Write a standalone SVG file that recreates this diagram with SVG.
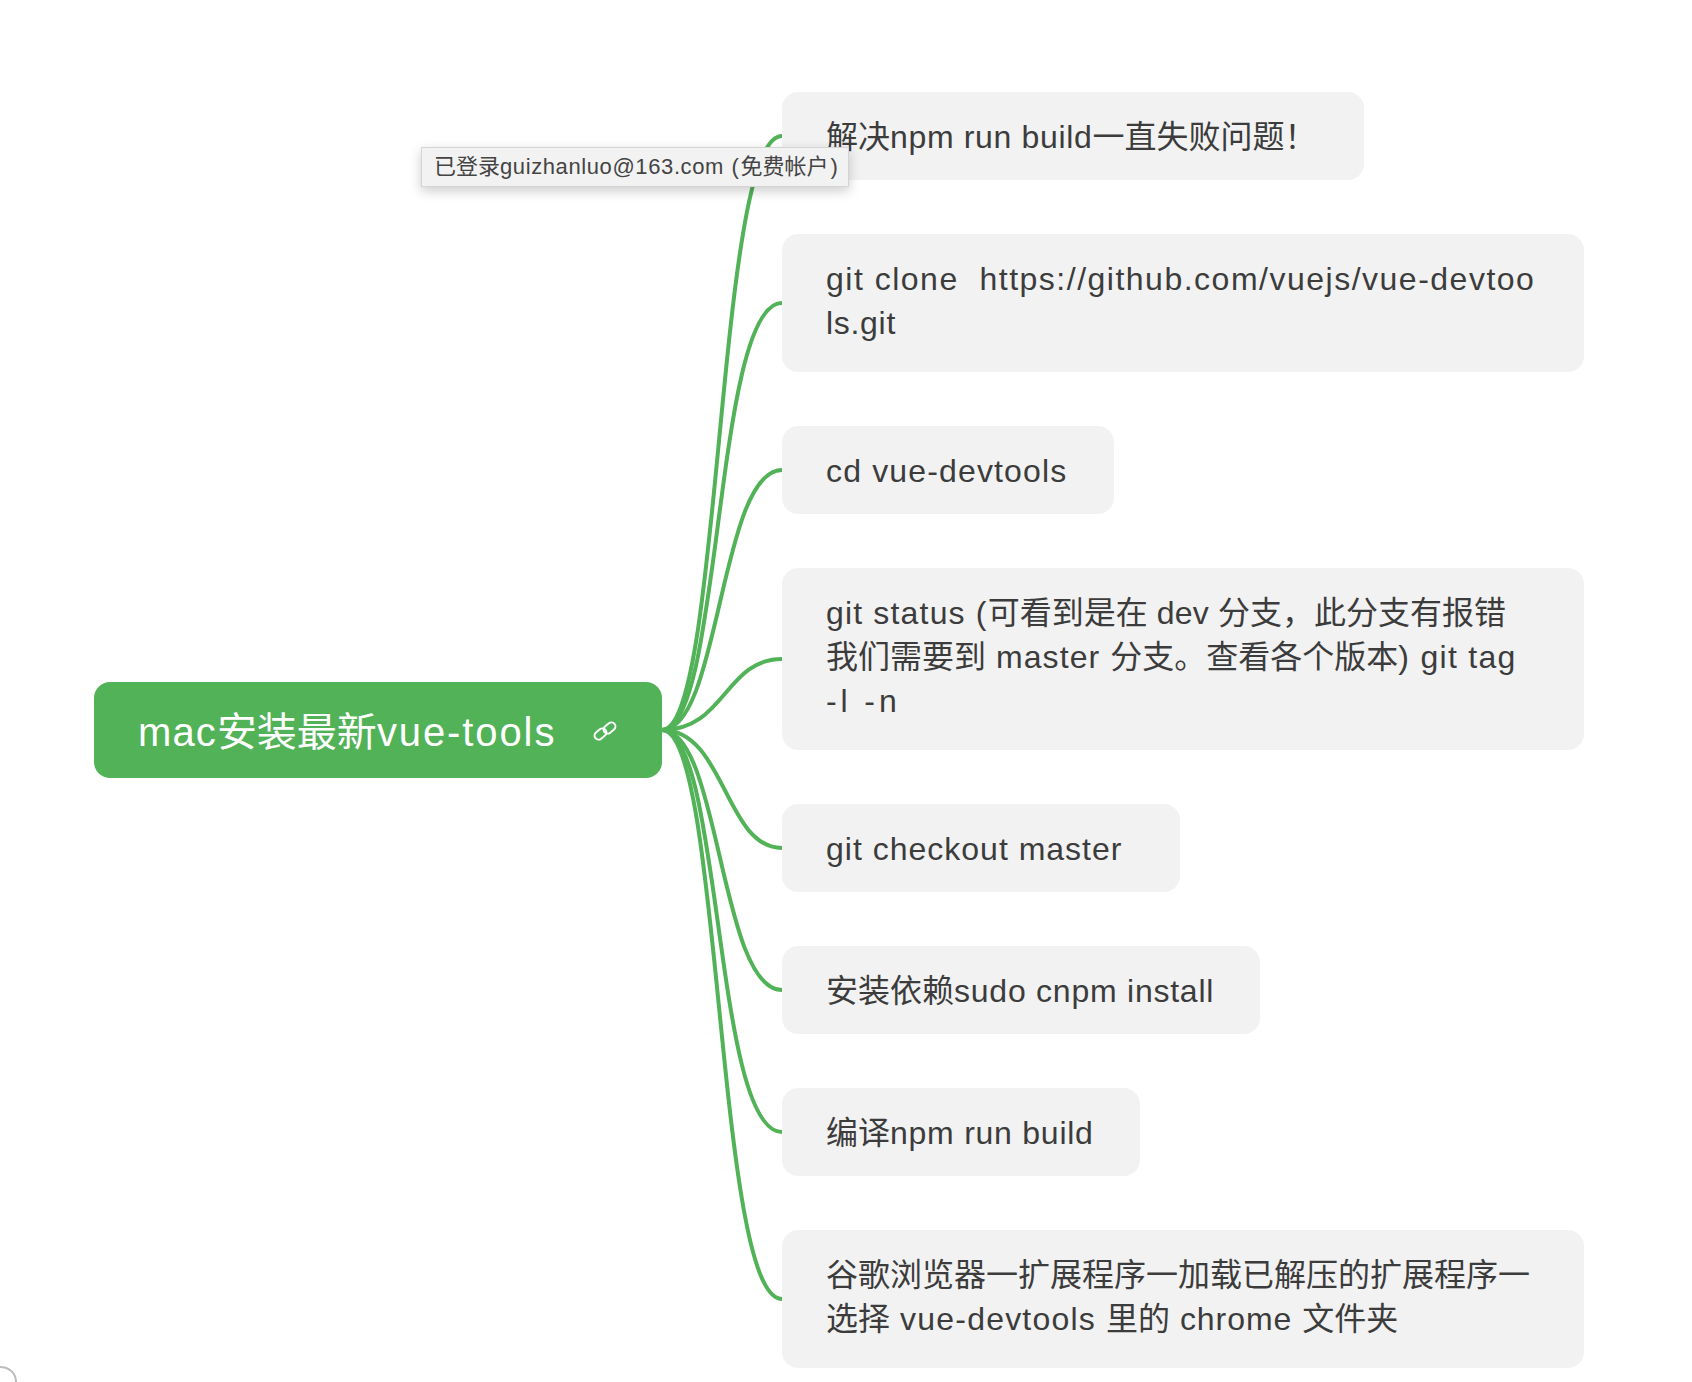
<svg xmlns="http://www.w3.org/2000/svg" width="1692" height="1382" viewBox="0 0 1692 1382">
<style>
text{font-family:"Liberation Sans","Noto Sans CJK SC",sans-serif;white-space:pre}
.n{fill:#f2f2f2}
.t{font-size:32px;fill:#3c3c3c}
.c{fill:none;stroke:#52b257;stroke-width:4}
</style>
<defs>
<filter id="sh" x="-10%" y="-50%" width="120%" height="220%"><feDropShadow dx="0" dy="4" stdDeviation="6" flood-color="#000" flood-opacity=".2"/></filter>
</defs>
<rect width="1692" height="1382" fill="#fff"/>
<g id="connectors">
<path class="c" d="M662 730C722 730 716 136 782 136"/>
<path class="c" d="M662 730C722 730 714 303 782 303"/>
<path class="c" d="M662 730C720 730 720 470 782 470"/>
<path class="c" d="M662 730C725 730 725 659 782 659"/>
<path class="c" d="M662 730C725 730 725 848 782 848"/>
<path class="c" d="M662 730C720 730 720 990 782 990"/>
<path class="c" d="M662 730C722 730 714 1132 782 1132"/>
<path class="c" d="M662 730C722 730 716 1299 782 1299"/>
</g>
<g id="root"><rect x="94" y="682" width="568" height="96" rx="16" fill="#52b257"/>
<text x="138" y="746" font-size="40" fill="#fff"><tspan letter-spacing="1.1">mac</tspan>安装最新<tspan letter-spacing="1.9">vue-tools</tspan></text>
<g fill="none" stroke="#fff" stroke-width="2" transform="translate(2 1)"><rect x="592" y="729" width="13" height="8" rx="4" transform="rotate(-40 598.5 733)"/><rect x="601" y="723" width="13" height="8" rx="4" transform="rotate(-40 607.5 727)"/></g></g>
<g id="n1"><rect class="n" x="782" y="92" width="582" height="88" rx="16"/><text class="t" x="826" y="148">解决<tspan letter-spacing=".66">npm run build</tspan>一直失败问题！</text></g>
<g id="n2"><rect class="n" x="782" y="234" width="802" height="138" rx="16"/><text class="t" x="826" y="290" letter-spacing="1.5">git clone  https://github.com/vuejs/vue-devtoo</text><text class="t" x="826" y="334" letter-spacing=".7">ls.git</text></g>
<g id="n3"><rect class="n" x="782" y="426" width="332" height="88" rx="16"/><text class="t" x="826" y="482" letter-spacing="1.15">cd vue-devtools</text></g>
<g id="n4"><rect class="n" x="782" y="568" width="802" height="182" rx="16"/><text class="t" x="826" y="624"><tspan letter-spacing="1.17">git status (</tspan>可看到是在<tspan letter-spacing=".2"> dev </tspan>分支，此分支有报错</text><text class="t" x="826" y="668">我们需要到<tspan letter-spacing="1.08"> master </tspan>分支。查看各个版本<tspan letter-spacing="1.3">) git tag</tspan></text><text class="t" x="826" y="712" letter-spacing="3.9">-l -n</text></g>
<g id="n5"><rect class="n" x="782" y="804" width="398" height="88" rx="16"/><text class="t" x="826" y="860" letter-spacing="1">git checkout master</text></g>
<g id="n6"><rect class="n" x="782" y="946" width="478" height="88" rx="16"/><text class="t" x="826" y="1002">安装依赖<tspan letter-spacing=".76">sudo cnpm install</tspan></text></g>
<g id="n7"><rect class="n" x="782" y="1088" width="358" height="88" rx="16"/><text class="t" x="826" y="1144">编译<tspan letter-spacing=".75">npm run build</tspan></text></g>
<g id="n8"><rect class="n" x="782" y="1230" width="802" height="138" rx="16"/><text class="t" x="826" y="1286">谷歌浏览器一扩展程序一加载已解压的扩展程序一</text><text class="t" x="826" y="1330">选择<tspan letter-spacing="1.2"> vue-devtools </tspan>里的<tspan letter-spacing=".95"> chrome </tspan>文件夹</text></g>
<g id="tooltip"><rect x="421.500" y="147.500" width="427" height="39" fill="#f2f2f2" stroke="#d4d4d4" filter="url(#sh)"/><text x="434" y="174" font-size="22" fill="#444">已登录<tspan letter-spacing=".6">guizhanluo@163.com</tspan><tspan letter-spacing="1.5"> (</tspan>免费帐户<tspan dx="2">)</tspan></text></g>
<path d="M0 1367C9 1367 16 1373 16 1382" fill="none" stroke="#bbb" stroke-width="2"/>
</svg>
